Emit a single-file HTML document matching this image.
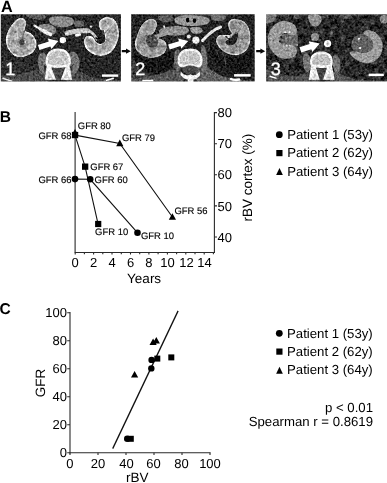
<!DOCTYPE html>
<html><head><meta charset="utf-8">
<style>
html,body{margin:0;padding:0;background:#fff;}
body{width:387px;height:483px;overflow:hidden;}
svg{display:block;}
text{font-family:"Liberation Sans",sans-serif;fill:#000;text-rendering:geometricPrecision;}
.b{font-weight:bold;font-size:15.6px;}
.g{font-size:9.45px;stroke:#000;stroke-width:0.15px;}
.t{font-size:13px;}
.t2{font-size:13px;}
.ax{font-size:13.5px;}
.lg{font-size:13.2px;}
.ln{stroke:#111;stroke-width:1.1;fill:none;}
.axl{stroke:#2a2a2a;stroke-width:1.1;fill:none;}
</style></head><body>
<svg width="387" height="483" viewBox="0 0 387 483">
<rect width="387" height="483" fill="#fff"/>
<defs>
<filter id="gr" x="0" y="0" width="100%" height="100%" color-interpolation-filters="sRGB">
<feTurbulence type="fractalNoise" baseFrequency="0.48" numOctaves="2" seed="7" result="n"/>
<feColorMatrix in="n" type="matrix" values="0.5 0.5 0 0 0 0.5 0.5 0 0 0 0.5 0.5 0 0 0 0 0 0 0 1" result="g"/>
<feComposite in="SourceGraphic" in2="g" operator="arithmetic" k1="0" k2="1" k3="0.76" k4="-0.38"/>
</filter>
<filter id="gr3" x="0" y="0" width="100%" height="100%" color-interpolation-filters="sRGB">
<feTurbulence type="fractalNoise" baseFrequency="0.48" numOctaves="2" seed="4" result="n"/>
<feColorMatrix in="n" type="matrix" values="0.5 0.5 0 0 0 0.5 0.5 0 0 0 0.5 0.5 0 0 0 0 0 0 0 1" result="g"/>
<feComposite in="SourceGraphic" in2="g" operator="arithmetic" k1="0" k2="1" k3="0.72" k4="-0.36"/>
</filter>
<filter id="bt" x="0" y="0" width="100%" height="100%" color-interpolation-filters="sRGB">
<feTurbulence type="fractalNoise" baseFrequency="0.2" numOctaves="2" seed="9" result="n2"/>
<feColorMatrix in="n2" type="matrix" values="1 0 0 0 0 1 0 0 0 0 1 0 0 0 0 0 0 0 0 1" result="g2"/>
<feComposite in="SourceGraphic" in2="g2" operator="arithmetic" k1="0" k2="1" k3="0.46" k4="-0.23"/>
</filter>
<filter id="mt" x="-5%" y="-5%" width="110%" height="110%" color-interpolation-filters="sRGB">
<feTurbulence type="fractalNoise" baseFrequency="0.2" numOctaves="2" seed="11" result="n"/>
<feColorMatrix in="n" type="matrix" values="0.5 0.5 0 0 0 0.5 0.5 0 0 0 0.5 0.5 0 0 0 0 0 0 0 1" result="g"/>
<feComposite in="SourceGraphic" in2="g" operator="arithmetic" k1="0" k2="1" k3="0.65" k4="-0.325" result="a"/>
<feComposite in="a" in2="SourceGraphic" operator="in"/>
</filter>
<filter id="bl" x="-10%" y="-10%" width="120%" height="120%"><feGaussianBlur stdDeviation="0.7"/></filter>
<filter id="bl2" x="-10%" y="-10%" width="120%" height="120%"><feGaussianBlur stdDeviation="1.2"/></filter>
<filter id="bs" x="-10%" y="-10%" width="120%" height="120%"><feGaussianBlur stdDeviation="0.35"/></filter>
<clipPath id="c1"><rect x="0.8" y="14.3" width="120.1" height="67.1"/></clipPath>
<clipPath id="c2"><rect x="131.2" y="14.3" width="123.5" height="67.1"/></clipPath>
<clipPath id="c3"><rect x="266.1" y="14.3" width="121" height="67.1"/></clipPath>
</defs><g clip-path="url(#c1)"><g filter="url(#gr)"><g filter="url(#bl)"><rect x="0" y="13" width="122" height="70" fill="#262626"/><rect x="34" y="13" width="60" height="2.6" fill="#3c3c3c"/><path d="M0.0 58.0C2.3 54.3 9.0 59.3 14.0 60.0C19.0 60.7 25.7 60.7 30.0 62.0C34.3 63.3 37.7 64.7 40.0 68.0C42.3 71.3 50.7 79.7 44.0 82.0C37.3 84.3 7.3 86.0 0.0 82.0C-7.3 78.0 -2.3 61.7 0.0 58.0Z" fill="#2e2e2e" /><path d="M0.0 76.0C3.3 74.5 13.7 75.0 20.0 74.0C26.3 73.0 33.7 70.0 38.0 70.0C42.3 70.0 44.7 71.8 46.0 74.0C47.3 76.2 53.7 81.5 46.0 83.0C38.3 84.5 7.7 84.2 0.0 83.0C-7.7 81.8 -3.3 77.5 0.0 76.0Z" fill="#4a4a4a" /><path d="M70.0 72.0C71.7 70.2 75.8 71.0 80.0 72.0C84.2 73.0 88.2 76.7 95.0 78.0C101.8 79.3 116.7 79.2 121.0 80.0C125.3 80.8 129.5 82.5 121.0 83.0C112.5 83.5 78.5 84.8 70.0 83.0C61.5 81.2 68.3 73.8 70.0 72.0Z" fill="#4a4a4a" /><path d="M49.5 18.0C50.8 17.0 54.9 16.5 58.0 16.3C61.1 16.1 65.3 16.4 68.0 17.0C70.7 17.6 73.3 18.7 74.0 20.0C74.7 21.3 73.7 23.8 72.0 25.0C70.3 26.2 66.8 27.0 64.0 27.2C61.2 27.4 57.3 26.8 55.0 26.0C52.7 25.2 50.9 23.8 50.0 22.5C49.1 21.2 48.2 19.0 49.5 18.0Z" fill="#8c8c8c" /><path d="M38.5 26.0C39.3 25.0 41.9 24.2 44.0 24.0C46.1 23.8 49.0 24.2 51.0 25.0C53.0 25.8 55.3 27.6 56.0 29.0C56.7 30.4 56.2 32.5 55.0 33.5C53.8 34.5 51.0 35.1 49.0 35.0C47.0 34.9 44.7 33.8 43.0 33.0C41.3 32.2 39.8 31.2 39.0 30.0C38.2 28.8 37.7 27.0 38.5 26.0Z" fill="#8a8a8a" /><path d="M74.0 22.0C74.7 21.0 78.3 20.3 80.0 20.5C81.7 20.7 83.7 22.0 84.0 23.0C84.3 24.0 83.3 25.9 82.0 26.5C80.7 27.1 77.3 27.2 76.0 26.5C74.7 25.8 73.3 23.0 74.0 22.0Z" fill="#6a6a6a" /><path d="M26.0 14.0C27.7 13.3 36.7 13.5 40.0 14.0C43.3 14.5 46.0 16.1 46.0 17.0C46.0 17.9 42.7 19.3 40.0 19.5C37.3 19.7 32.3 18.9 30.0 18.0C27.7 17.1 24.3 14.7 26.0 14.0Z" fill="#5a5a5a" /><path d="M34.5 25.6C35.4 26.1 38.0 27.6 40.0 28.8C42.0 30.0 45.4 32.1 46.5 32.8" fill="none" stroke="#f4f4f4" stroke-width="2.2" stroke-linecap="round" /><path d="M43.5 30.6C44.1 31.0 45.9 32.2 47.0 32.8C48.1 33.4 49.8 34.1 50.4 34.4" fill="none" stroke="#f4f4f4" stroke-width="3.6" stroke-linecap="round" /><path d="M67.0 33.2C68.2 32.9 71.5 32.0 74.0 31.6C76.5 31.2 79.8 30.9 82.0 30.8C84.2 30.7 86.6 30.8 87.5 30.8" fill="none" stroke="#c8c8c8" stroke-width="5" stroke-linecap="round" /><path d="M86.0 30.8C86.8 31.0 89.2 31.2 90.5 31.8C91.8 32.4 93.0 33.5 94.0 34.6C95.0 35.7 95.8 37.4 96.6 38.6C97.4 39.8 98.6 41.1 99.0 41.6" fill="none" stroke="#c8c8c8" stroke-width="2.8" stroke-linecap="round" /><ellipse cx="78" cy="35" rx="3.2" ry="1.5" fill="#fff" transform="rotate(-12 78 35)" /><ellipse cx="91.1" cy="26.6" rx="1.3" ry="1.1" fill="#ddd" /><path d="M38.5 56.0C39.4 54.2 42.1 52.2 43.5 52.5C44.9 52.8 46.3 55.4 47.0 58.0C47.7 60.6 47.9 65.3 47.5 68.0C47.1 70.7 45.8 73.7 44.5 74.0C43.2 74.3 41.1 71.8 40.0 70.0C38.9 68.2 38.2 65.3 38.0 63.0C37.8 60.7 37.6 57.8 38.5 56.0Z" fill="#727272" /><path d="M69.5 54.0C70.2 51.7 72.5 51.5 74.0 52.0C75.5 52.5 77.6 54.7 78.5 57.0C79.4 59.3 79.9 63.3 79.5 66.0C79.1 68.7 77.3 71.7 76.0 73.0C74.7 74.3 72.5 75.2 71.5 74.0C70.5 72.8 70.3 69.3 70.0 66.0C69.7 62.7 68.8 56.3 69.5 54.0Z" fill="#727272" /><clipPath id="k1"><path d="M20.3 17.8C21.7 17.7 23.6 18.2 24.6 19.2C25.6 20.2 26.4 22.2 26.5 24.0C26.6 25.8 24.2 28.6 25.0 30.2C25.8 31.8 29.2 31.7 31.0 33.3C32.8 34.8 34.8 37.4 35.7 39.5C36.6 41.6 36.9 43.6 36.5 45.7C36.1 47.8 34.9 50.2 33.4 51.9C31.8 53.6 29.4 54.9 27.2 55.8C25.0 56.7 22.5 57.5 20.2 57.4C17.9 57.3 15.1 56.3 13.2 55.0C11.2 53.7 9.7 51.5 8.5 49.6C7.3 47.7 6.6 45.6 6.2 43.4C5.8 41.2 5.9 38.5 6.2 36.4C6.5 34.3 7.4 32.5 8.0 31.0C8.6 29.5 9.2 28.5 10.0 27.3C10.8 26.1 11.6 25.0 12.6 23.8C13.6 22.6 14.7 21.0 16.0 20.0C17.3 19.0 18.9 17.9 20.3 17.8Z"/></clipPath><g filter="url(#mt)"><g clip-path="url(#k1)"><path d="M20.3 17.8C21.7 17.7 23.6 18.2 24.6 19.2C25.6 20.2 26.4 22.2 26.5 24.0C26.6 25.8 24.2 28.6 25.0 30.2C25.8 31.8 29.2 31.7 31.0 33.3C32.8 34.8 34.8 37.4 35.7 39.5C36.6 41.6 36.9 43.6 36.5 45.7C36.1 47.8 34.9 50.2 33.4 51.9C31.8 53.6 29.4 54.9 27.2 55.8C25.0 56.7 22.5 57.5 20.2 57.4C17.9 57.3 15.1 56.3 13.2 55.0C11.2 53.7 9.7 51.5 8.5 49.6C7.3 47.7 6.6 45.6 6.2 43.4C5.8 41.2 5.9 38.5 6.2 36.4C6.5 34.3 7.4 32.5 8.0 31.0C8.6 29.5 9.2 28.5 10.0 27.3C10.8 26.1 11.6 25.0 12.6 23.8C13.6 22.6 14.7 21.0 16.0 20.0C17.3 19.0 18.9 17.9 20.3 17.8Z" fill="#a8a8a8"/><path d="M20.3 17.8C21.7 17.7 23.6 18.2 24.6 19.2C25.6 20.2 26.4 22.2 26.5 24.0C26.6 25.8 24.2 28.6 25.0 30.2C25.8 31.8 29.2 31.7 31.0 33.3C32.8 34.8 34.8 37.4 35.7 39.5C36.6 41.6 36.9 43.6 36.5 45.7C36.1 47.8 34.9 50.2 33.4 51.9C31.8 53.6 29.4 54.9 27.2 55.8C25.0 56.7 22.5 57.5 20.2 57.4C17.9 57.3 15.1 56.3 13.2 55.0C11.2 53.7 9.7 51.5 8.5 49.6C7.3 47.7 6.6 45.6 6.2 43.4C5.8 41.2 5.9 38.5 6.2 36.4C6.5 34.3 7.4 32.5 8.0 31.0C8.6 29.5 9.2 28.5 10.0 27.3C10.8 26.1 11.6 25.0 12.6 23.8C13.6 22.6 14.7 21.0 16.0 20.0C17.3 19.0 18.9 17.9 20.3 17.8Z" fill="none" stroke="#dedede" stroke-width="3.4" filter="url(#bs)"/></g></g><g filter="url(#bl2)"><ellipse cx="22" cy="42.8" rx="5" ry="5.2" fill="#8a8a8a" /></g><path d="M24.6 30.6C24.4 31.3 23.6 33.5 23.2 35.0C22.8 36.5 22.2 38.8 22.0 39.5" fill="none" stroke="#6a6a6a" stroke-width="1.3" stroke-linecap="round" /><ellipse cx="22" cy="42.3" rx="2.6" ry="3" fill="#3a3a3a" /><ellipse cx="25.2" cy="42" rx="0.8" ry="0.7" fill="#fff" /><clipPath id="k2"><path d="M106.2 16.9C108.5 16.8 112.2 17.6 114.2 19.3C116.2 21.0 117.4 24.1 118.2 27.0C119.0 29.9 119.2 33.3 118.8 36.4C118.4 39.5 117.2 43.0 115.8 45.7C114.4 48.4 112.6 51.0 110.4 52.7C108.2 54.4 105.4 55.5 102.6 55.8C99.8 56.1 96.0 55.5 93.3 54.3C90.6 53.1 87.8 50.8 86.3 48.8C84.8 46.8 84.2 44.4 84.0 42.6C83.8 40.8 84.0 39.2 84.8 38.0C85.6 36.8 87.2 35.7 88.6 35.6C90.0 35.5 92.1 36.3 93.3 37.2C94.5 38.1 94.6 40.1 95.6 41.1C96.6 42.1 98.2 43.4 99.5 43.4C100.8 43.4 102.5 42.3 103.4 41.1C104.3 39.9 104.9 38.0 104.9 36.4C104.9 34.8 104.2 32.9 103.4 31.7C102.6 30.5 101.1 30.5 100.3 29.4C99.5 28.2 98.7 26.4 98.7 24.8C98.7 23.2 99.0 21.4 100.3 20.1C101.5 18.8 103.9 17.0 106.2 16.9Z"/></clipPath><g filter="url(#mt)"><g clip-path="url(#k2)"><path d="M106.2 16.9C108.5 16.8 112.2 17.6 114.2 19.3C116.2 21.0 117.4 24.1 118.2 27.0C119.0 29.9 119.2 33.3 118.8 36.4C118.4 39.5 117.2 43.0 115.8 45.7C114.4 48.4 112.6 51.0 110.4 52.7C108.2 54.4 105.4 55.5 102.6 55.8C99.8 56.1 96.0 55.5 93.3 54.3C90.6 53.1 87.8 50.8 86.3 48.8C84.8 46.8 84.2 44.4 84.0 42.6C83.8 40.8 84.0 39.2 84.8 38.0C85.6 36.8 87.2 35.7 88.6 35.6C90.0 35.5 92.1 36.3 93.3 37.2C94.5 38.1 94.6 40.1 95.6 41.1C96.6 42.1 98.2 43.4 99.5 43.4C100.8 43.4 102.5 42.3 103.4 41.1C104.3 39.9 104.9 38.0 104.9 36.4C104.9 34.8 104.2 32.9 103.4 31.7C102.6 30.5 101.1 30.5 100.3 29.4C99.5 28.2 98.7 26.4 98.7 24.8C98.7 23.2 99.0 21.4 100.3 20.1C101.5 18.8 103.9 17.0 106.2 16.9Z" fill="#a6a6a6"/><path d="M106.2 16.9C108.5 16.8 112.2 17.6 114.2 19.3C116.2 21.0 117.4 24.1 118.2 27.0C119.0 29.9 119.2 33.3 118.8 36.4C118.4 39.5 117.2 43.0 115.8 45.7C114.4 48.4 112.6 51.0 110.4 52.7C108.2 54.4 105.4 55.5 102.6 55.8C99.8 56.1 96.0 55.5 93.3 54.3C90.6 53.1 87.8 50.8 86.3 48.8C84.8 46.8 84.2 44.4 84.0 42.6C83.8 40.8 84.0 39.2 84.8 38.0C85.6 36.8 87.2 35.7 88.6 35.6C90.0 35.5 92.1 36.3 93.3 37.2C94.5 38.1 94.6 40.1 95.6 41.1C96.6 42.1 98.2 43.4 99.5 43.4C100.8 43.4 102.5 42.3 103.4 41.1C104.3 39.9 104.9 38.0 104.9 36.4C104.9 34.8 104.2 32.9 103.4 31.7C102.6 30.5 101.1 30.5 100.3 29.4C99.5 28.2 98.7 26.4 98.7 24.8C98.7 23.2 99.0 21.4 100.3 20.1C101.5 18.8 103.9 17.0 106.2 16.9Z" fill="none" stroke="#e0e0e0" stroke-width="3.6" filter="url(#bs)"/></g></g><path d="M98.5 36.5C99.3 35.0 100.6 33.3 101.5 33.0C102.4 32.7 103.4 33.6 104.0 34.5C104.6 35.4 105.2 37.2 105.3 38.5C105.3 39.8 105.1 41.4 104.3 42.3C103.5 43.2 101.8 44.1 100.5 44.0C99.2 43.9 96.9 43.0 96.6 41.8C96.3 40.5 97.7 38.0 98.5 36.5Z" fill="#1c1c1c" /><path d="M103.0 30.5C103.1 31.1 103.5 33.4 103.6 34.0" fill="none" stroke="#333" stroke-width="1.5" stroke-linecap="round" /><path d="M105.0 39.0C105.6 39.2 107.9 40.2 108.5 40.5" fill="none" stroke="#777" stroke-width="1.2" stroke-linecap="round" /><path d="M104.0 34.0C104.7 33.3 107.3 30.7 108.0 30.0" fill="none" stroke="#888" stroke-width="1.2" stroke-linecap="round" /><path d="M102.0 44.0C102.3 44.8 103.7 47.8 104.0 48.5" fill="none" stroke="#888" stroke-width="1.2" stroke-linecap="round" /><path d="M96.0 38.0C96.5 38.3 98.5 39.7 99.0 40.0" fill="none" stroke="#1c1c1c" stroke-width="1.6" stroke-linecap="round" /><path d="M46.8 65.5L69.6 65.5L72.1 79.8L44.7 79.8Z" fill="#f4f4f4"/><path d="M51 66.8L65.8 66.8L60.6 80L56.2 80Z" fill="#444"/><path d="M49.4 71.5L53.2 78.2L47.8 78.4Z" fill="#d0d0d0"/><path d="M67.2 71.5L63.4 78.2L69 78.4Z" fill="#d0d0d0"/><path d="M44 65L46.6 66.8L44.6 73Z" fill="#222"/><path d="M72.6 65L70 66.8L72 73Z" fill="#222"/><path d="M58.2 48.5C60.0 48.5 61.9 48.7 63.5 49.3C65.1 49.9 66.7 50.9 67.8 52.2C68.9 53.5 69.8 55.4 70.3 57.0C70.8 58.6 71.0 60.3 70.9 61.8C70.8 63.3 70.7 65.0 69.5 66.0C68.3 67.0 66.9 67.3 64.0 67.6C61.1 67.9 54.9 67.9 52.0 67.6C49.1 67.3 48.0 67.0 46.9 66.0C45.8 65.0 45.7 63.3 45.6 61.8C45.5 60.3 45.7 58.6 46.2 57.0C46.7 55.4 47.6 53.5 48.7 52.2C49.8 50.9 51.4 49.9 53.0 49.3C54.6 48.7 56.5 48.5 58.2 48.5Z" fill="#f6f6f6" /><path d="M58.2 50.8C59.8 50.8 61.6 51.0 63.0 51.5C64.4 52.0 65.5 53.0 66.4 54.0C67.3 55.0 67.9 56.5 68.3 57.8C68.7 59.0 68.8 60.4 68.6 61.5C68.4 62.6 68.2 63.7 67.3 64.3C66.4 64.9 65.3 65.1 63.0 65.3C60.7 65.5 55.7 65.5 53.4 65.3C51.1 65.1 50.1 64.9 49.2 64.3C48.3 63.7 48.1 62.6 47.9 61.5C47.7 60.4 47.9 59.0 48.2 57.8C48.6 56.5 49.1 55.0 50.0 54.0C50.9 53.0 52.1 52.0 53.5 51.5C54.9 51.0 56.6 50.8 58.2 50.8Z" fill="#c6c6c6" /><ellipse cx="62.8" cy="40.1" rx="3.2" ry="3.2" fill="#fff" /></g></g><g filter="url(#bs)"><path d="M39.5 50.1 L50.4 46.4 L51.4 49.1 L58.4 40.9 L47.8 38.6 L48.8 41.4 L37.9 45.1 Z" fill="#fff"/><rect x="102" y="74.4" width="16.3" height="2.4" fill="#fff"/><path d="M105.8 80.5l8-2.3" stroke="#fff" stroke-width="1.5"/><path d="M2.5 78.2l10 3.2" stroke="#eee" stroke-width="1.5"/><text x="5.2" y="74.7" style="font-size:18px;fill:#fff;stroke:#fff;stroke-width:0.35px">1</text></g></g><g clip-path="url(#c2)"><g filter="url(#gr)"><g filter="url(#bl)"><rect x="130" y="13" width="126" height="70" fill="#242424"/><rect x="150" y="13" width="90" height="2.4" fill="#383838"/><path d="M131.0 74.0C133.3 72.8 140.2 76.0 145.0 76.0C149.8 76.0 155.5 75.0 160.0 74.0C164.5 73.0 168.7 70.3 172.0 70.0C175.3 69.7 178.7 69.8 180.0 72.0C181.3 74.2 188.2 81.2 180.0 83.0C171.8 84.8 139.2 84.5 131.0 83.0C122.8 81.5 128.7 75.2 131.0 74.0Z" fill="#555" /><path d="M200.0 62.0C201.3 59.5 204.3 65.7 208.0 68.0C211.7 70.3 216.7 74.0 222.0 76.0C227.3 78.0 234.5 79.2 240.0 80.0C245.5 80.8 252.5 80.5 255.0 81.0C257.5 81.5 264.2 82.7 255.0 83.0C245.8 83.3 209.2 86.5 200.0 83.0C190.8 79.5 198.7 64.5 200.0 62.0Z" fill="#626262" /><path d="M131.0 60.0C131.8 57.3 134.5 60.3 136.0 62.0C137.5 63.7 137.7 67.8 140.0 70.0C142.3 72.2 151.5 73.7 150.0 75.0C148.5 76.3 134.2 80.5 131.0 78.0C127.8 75.5 130.2 62.7 131.0 60.0Z" fill="#3a3a3a" /><path d="M134.0 52.0C135.3 50.7 141.7 57.0 146.0 58.0C150.3 59.0 156.0 59.0 160.0 58.0C164.0 57.0 167.7 51.7 170.0 52.0C172.3 52.3 174.3 57.0 174.0 60.0C173.7 63.0 172.0 68.0 168.0 70.0C164.0 72.0 155.0 72.7 150.0 72.0C145.0 71.3 140.7 69.3 138.0 66.0C135.3 62.7 132.7 53.3 134.0 52.0Z" fill="#161616" /><path d="M212.0 48.0C213.7 47.3 219.3 54.5 224.0 56.0C228.7 57.5 235.5 58.0 240.0 57.0C244.5 56.0 248.8 49.2 251.0 50.0C253.2 50.8 254.2 58.3 253.0 62.0C251.8 65.7 248.5 70.7 244.0 72.0C239.5 73.3 231.0 72.0 226.0 70.0C221.0 68.0 216.3 63.7 214.0 60.0C211.7 56.3 210.3 48.7 212.0 48.0Z" fill="#161616" /><path d="M175.0 18.5C175.9 17.4 178.8 16.4 181.0 15.8C183.2 15.2 185.5 15.3 188.0 15.2C190.5 15.1 193.3 15.2 196.0 15.4C198.7 15.6 201.8 15.9 204.0 16.6C206.2 17.3 208.8 18.4 209.5 19.5C210.2 20.6 209.6 22.5 208.0 23.5C206.4 24.5 203.0 25.2 200.0 25.6C197.0 26.0 193.2 26.1 190.0 26.0C186.8 25.9 183.4 25.6 181.0 25.0C178.6 24.4 176.5 23.6 175.5 22.5C174.5 21.4 174.1 19.6 175.0 18.5Z" fill="#969696" /><ellipse cx="187.6" cy="20.1" rx="1.8" ry="2.3" fill="#000" /><ellipse cx="194.5" cy="20.6" rx="1.8" ry="2.3" fill="#000" /><path d="M211.0 15.0C212.1 14.2 215.5 14.3 218.0 14.5C220.5 14.7 225.0 15.1 226.0 16.0C227.0 16.9 225.7 19.2 224.0 20.0C222.3 20.8 218.1 21.2 216.0 21.0C213.9 20.8 212.3 20.0 211.5 19.0C210.7 18.0 209.9 15.8 211.0 15.0Z" fill="#707070" /><path d="M158.0 17.0C158.5 15.8 163.5 15.0 166.0 15.0C168.5 15.0 172.0 16.0 173.0 17.0C174.0 18.0 173.7 20.2 172.0 21.0C170.3 21.8 165.3 22.7 163.0 22.0C160.7 21.3 157.5 18.2 158.0 17.0Z" fill="#5a5a5a" /><path d="M159.5 30.0C160.3 28.9 162.9 28.0 165.0 27.4C167.1 26.8 169.5 26.6 172.0 26.4C174.5 26.2 177.5 26.0 180.0 26.2C182.5 26.4 185.6 26.7 187.0 27.6C188.4 28.5 189.3 30.3 188.6 31.5C187.9 32.7 185.4 34.3 183.0 35.0C180.6 35.7 176.8 35.5 174.0 35.5C171.2 35.5 168.3 35.2 166.0 35.0C163.7 34.8 161.1 34.8 160.0 34.0C158.9 33.2 158.7 31.1 159.5 30.0Z" fill="#8e8e8e" /><path d="M189.8 28.5C190.1 27.4 193.1 27.1 195.0 27.0C196.9 26.9 199.8 27.3 201.0 28.0C202.2 28.7 202.8 30.1 202.5 31.0C202.2 31.9 200.6 33.0 199.0 33.4C197.4 33.8 194.5 34.2 193.0 33.4C191.5 32.6 189.5 29.6 189.8 28.5Z" fill="#9c9c9c" /><ellipse cx="164.2" cy="26.8" rx="0.9" ry="1.6" fill="#e4e4e4" transform="rotate(-15 164.2 26.8)" /><path d="M155.0 37.0C156.2 36.6 159.7 35.3 162.0 34.5C164.3 33.7 166.8 32.9 169.0 32.2C171.2 31.5 174.0 30.8 175.0 30.5" fill="none" stroke="#9a9a9a" stroke-width="4.2" stroke-linecap="round" /><path d="M202.5 40.5C203.1 39.9 204.6 38.3 206.0 37.0C207.4 35.7 209.3 33.8 211.0 32.5C212.7 31.2 214.4 29.9 216.0 29.0C217.6 28.1 219.8 27.3 220.5 27.0" fill="none" stroke="#e8e8e8" stroke-width="3" stroke-linecap="round" /><path d="M175.0 52.0C175.8 49.7 178.0 49.0 178.8 50.0C179.6 51.0 179.7 55.0 180.0 58.0C180.3 61.0 181.0 65.7 180.5 68.0C180.0 70.3 178.1 72.7 177.0 72.0C175.9 71.3 174.3 67.3 174.0 64.0C173.7 60.7 174.2 54.3 175.0 52.0Z" fill="#6a6a6a" /><path d="M201.5 46.0C202.1 43.8 204.1 45.3 205.0 47.0C205.9 48.7 206.7 52.5 207.0 56.0C207.3 59.5 207.7 65.3 207.0 68.0C206.3 70.7 203.9 73.3 203.0 72.0C202.1 70.7 201.8 64.3 201.5 60.0C201.2 55.7 200.9 48.2 201.5 46.0Z" fill="#707070" /><clipPath id="k3"><path d="M150.6 18.5C152.2 18.5 154.8 19.4 155.8 20.6C156.9 21.8 157.0 23.7 156.9 25.5C156.8 27.3 155.8 29.5 155.0 31.2C154.2 32.9 151.2 34.5 151.8 35.6C152.4 36.7 156.3 37.1 158.4 38.0C160.5 38.9 163.2 39.7 164.6 41.1C166.0 42.5 166.9 44.6 166.9 46.5C166.9 48.4 166.0 51.0 164.6 52.7C163.2 54.4 160.7 55.7 158.4 56.6C156.1 57.5 153.2 58.2 150.6 58.1C148.0 58.0 145.2 57.1 142.9 55.8C140.6 54.5 137.9 52.5 136.6 50.4C135.2 48.3 134.8 45.7 134.8 43.4C134.8 41.1 135.9 38.6 136.6 36.4C137.3 34.2 138.1 32.0 139.0 30.0C139.9 28.0 140.8 26.2 142.0 24.6C143.2 23.0 145.0 21.4 146.4 20.4C147.8 19.4 149.0 18.5 150.6 18.5Z"/></clipPath><g filter="url(#mt)"><g clip-path="url(#k3)"><path d="M150.6 18.5C152.2 18.5 154.8 19.4 155.8 20.6C156.9 21.8 157.0 23.7 156.9 25.5C156.8 27.3 155.8 29.5 155.0 31.2C154.2 32.9 151.2 34.5 151.8 35.6C152.4 36.7 156.3 37.1 158.4 38.0C160.5 38.9 163.2 39.7 164.6 41.1C166.0 42.5 166.9 44.6 166.9 46.5C166.9 48.4 166.0 51.0 164.6 52.7C163.2 54.4 160.7 55.7 158.4 56.6C156.1 57.5 153.2 58.2 150.6 58.1C148.0 58.0 145.2 57.1 142.9 55.8C140.6 54.5 137.9 52.5 136.6 50.4C135.2 48.3 134.8 45.7 134.8 43.4C134.8 41.1 135.9 38.6 136.6 36.4C137.3 34.2 138.1 32.0 139.0 30.0C139.9 28.0 140.8 26.2 142.0 24.6C143.2 23.0 145.0 21.4 146.4 20.4C147.8 19.4 149.0 18.5 150.6 18.5Z" fill="#929292"/><path d="M150.6 18.5C152.2 18.5 154.8 19.4 155.8 20.6C156.9 21.8 157.0 23.7 156.9 25.5C156.8 27.3 155.8 29.5 155.0 31.2C154.2 32.9 151.2 34.5 151.8 35.6C152.4 36.7 156.3 37.1 158.4 38.0C160.5 38.9 163.2 39.7 164.6 41.1C166.0 42.5 166.9 44.6 166.9 46.5C166.9 48.4 166.0 51.0 164.6 52.7C163.2 54.4 160.7 55.7 158.4 56.6C156.1 57.5 153.2 58.2 150.6 58.1C148.0 58.0 145.2 57.1 142.9 55.8C140.6 54.5 137.9 52.5 136.6 50.4C135.2 48.3 134.8 45.7 134.8 43.4C134.8 41.1 135.9 38.6 136.6 36.4C137.3 34.2 138.1 32.0 139.0 30.0C139.9 28.0 140.8 26.2 142.0 24.6C143.2 23.0 145.0 21.4 146.4 20.4C147.8 19.4 149.0 18.5 150.6 18.5Z" fill="none" stroke="#bcbcbc" stroke-width="3.0" filter="url(#bs)"/></g></g><g filter="url(#bl)"><path d="M147.5 36.0C148.5 35.1 150.5 34.1 152.0 34.4C153.5 34.7 155.6 36.2 156.6 37.6C157.6 39.0 158.1 41.0 158.0 42.5C157.9 44.0 157.1 45.8 156.0 46.6C154.9 47.5 152.9 48.0 151.5 47.6C150.1 47.2 148.2 45.8 147.3 44.5C146.4 43.2 146.0 41.4 146.0 40.0C146.0 38.6 146.5 36.9 147.5 36.0Z" fill="#484848" /></g><ellipse cx="154.5" cy="40" rx="1.6" ry="1.2" fill="#8a8a8a" transform="rotate(25 154.5 40)" /><path d="M151.0 36.0C151.3 36.7 152.7 39.3 153.0 40.0" fill="none" stroke="#444" stroke-width="1.5" stroke-linecap="round" /><clipPath id="k4"><path d="M234.0 18.7C236.0 18.7 239.7 19.2 242.0 20.4C244.3 21.5 246.2 23.2 247.6 25.6C249.0 28.0 250.0 31.4 250.3 34.5C250.6 37.6 250.3 41.4 249.6 44.2C248.8 47.0 247.7 49.3 245.8 51.1C243.9 52.9 240.8 54.5 238.0 55.0C235.2 55.5 231.5 55.2 228.7 54.3C225.9 53.4 223.1 51.5 221.0 49.6C218.9 47.7 217.0 44.7 216.3 42.6C215.7 40.5 216.3 38.5 217.1 37.2C217.9 35.9 219.5 35.2 221.0 34.8C222.5 34.4 224.6 35.0 226.0 35.0C227.4 35.0 228.6 35.1 229.5 34.8C230.4 34.5 231.5 33.9 231.6 33.2C231.7 32.5 230.5 31.8 230.0 30.8C229.5 29.9 228.8 28.7 228.5 27.5C228.2 26.3 228.0 24.7 228.2 23.5C228.4 22.3 228.8 21.1 229.8 20.3C230.8 19.5 232.0 18.7 234.0 18.7Z"/></clipPath><g filter="url(#mt)"><g clip-path="url(#k4)"><path d="M234.0 18.7C236.0 18.7 239.7 19.2 242.0 20.4C244.3 21.5 246.2 23.2 247.6 25.6C249.0 28.0 250.0 31.4 250.3 34.5C250.6 37.6 250.3 41.4 249.6 44.2C248.8 47.0 247.7 49.3 245.8 51.1C243.9 52.9 240.8 54.5 238.0 55.0C235.2 55.5 231.5 55.2 228.7 54.3C225.9 53.4 223.1 51.5 221.0 49.6C218.9 47.7 217.0 44.7 216.3 42.6C215.7 40.5 216.3 38.5 217.1 37.2C217.9 35.9 219.5 35.2 221.0 34.8C222.5 34.4 224.6 35.0 226.0 35.0C227.4 35.0 228.6 35.1 229.5 34.8C230.4 34.5 231.5 33.9 231.6 33.2C231.7 32.5 230.5 31.8 230.0 30.8C229.5 29.9 228.8 28.7 228.5 27.5C228.2 26.3 228.0 24.7 228.2 23.5C228.4 22.3 228.8 21.1 229.8 20.3C230.8 19.5 232.0 18.7 234.0 18.7Z" fill="#969696"/><path d="M234.0 18.7C236.0 18.7 239.7 19.2 242.0 20.4C244.3 21.5 246.2 23.2 247.6 25.6C249.0 28.0 250.0 31.4 250.3 34.5C250.6 37.6 250.3 41.4 249.6 44.2C248.8 47.0 247.7 49.3 245.8 51.1C243.9 52.9 240.8 54.5 238.0 55.0C235.2 55.5 231.5 55.2 228.7 54.3C225.9 53.4 223.1 51.5 221.0 49.6C218.9 47.7 217.0 44.7 216.3 42.6C215.7 40.5 216.3 38.5 217.1 37.2C217.9 35.9 219.5 35.2 221.0 34.8C222.5 34.4 224.6 35.0 226.0 35.0C227.4 35.0 228.6 35.1 229.5 34.8C230.4 34.5 231.5 33.9 231.6 33.2C231.7 32.5 230.5 31.8 230.0 30.8C229.5 29.9 228.8 28.7 228.5 27.5C228.2 26.3 228.0 24.7 228.2 23.5C228.4 22.3 228.8 21.1 229.8 20.3C230.8 19.5 232.0 18.7 234.0 18.7Z" fill="none" stroke="#c4c4c4" stroke-width="3.0" filter="url(#bs)"/></g></g><path d="M225.4 41.3C226.0 40.2 228.9 39.5 230.3 38.4C231.7 37.3 232.6 35.6 233.6 34.6C234.6 33.6 235.8 32.3 236.6 32.3C237.4 32.2 238.1 33.2 238.2 34.3C238.3 35.3 237.8 37.1 237.3 38.6C236.9 40.1 236.5 41.9 235.5 43.0C234.5 44.1 232.8 44.9 231.4 45.2C230.0 45.5 228.0 45.4 227.0 44.7C226.0 44.1 224.8 42.3 225.4 41.3Z" fill="#242424" /><path d="M238.5 38.0C239.2 38.2 241.8 39.2 242.5 39.5" fill="none" stroke="#6e6e6e" stroke-width="1.2" stroke-linecap="round" /><path d="M236.0 33.5C236.7 32.8 239.3 30.2 240.0 29.5" fill="none" stroke="#777" stroke-width="1.2" stroke-linecap="round" /><path d="M235.5 44.0C235.8 44.8 237.2 47.8 237.5 48.5" fill="none" stroke="#777" stroke-width="1.2" stroke-linecap="round" /><path d="M226.0 36.5C226.7 37.0 229.3 39.0 230.0 39.5" fill="none" stroke="#262626" stroke-width="1.6" stroke-linecap="round" /><ellipse cx="228.8" cy="36.8" rx="1.3" ry="1.2" fill="#e8e8e8" /><path d="M222.0 52.0C222.5 53.3 224.3 57.3 225.0 60.0C225.7 62.7 225.8 66.7 226.0 68.0" fill="none" stroke="#484848" stroke-width="1.2" stroke-linecap="round" /><path d="M216.0 50.0C216.5 51.2 218.5 55.8 219.0 57.0" fill="none" stroke="#444" stroke-width="1" stroke-linecap="round" /><path d="M180.8 71.6Q184 75.6 188 75.2L190.4 74.3L192.8 75.2Q197 75.6 199.6 71.6L200.2 75Q196.6 79.6 193.5 79.6L193.5 83L187.6 83L187.6 79.6Q184.6 79.6 180.4 75Z" fill="#f6f6f6"/><path d="M190.1 48.5C191.9 48.5 194.0 48.7 195.6 49.3C197.2 49.9 198.7 51.0 199.8 52.3C200.9 53.6 201.7 55.4 202.2 57.0C202.7 58.6 202.8 60.3 202.6 61.8C202.4 63.3 201.9 65.0 201.0 66.0C200.1 67.0 198.8 67.5 197.0 67.6C195.2 67.7 192.4 66.4 190.1 66.4C187.8 66.4 184.8 67.7 183.0 67.6C181.2 67.5 180.1 67.0 179.2 66.0C178.3 65.0 177.8 63.3 177.6 61.8C177.4 60.3 177.5 58.6 178.0 57.0C178.5 55.4 179.3 53.6 180.4 52.3C181.5 51.0 183.0 49.9 184.6 49.3C186.2 48.7 188.3 48.5 190.1 48.5Z" fill="#f6f6f6" /><path d="M190.1 50.8C191.7 50.8 193.6 51.0 195.0 51.5C196.4 52.0 197.5 53.0 198.4 54.0C199.3 55.0 199.9 56.5 200.2 57.8C200.5 59.0 200.6 60.4 200.4 61.5C200.2 62.6 199.8 63.7 199.0 64.3C198.2 64.9 196.9 65.1 195.4 65.0C193.9 64.9 191.9 63.8 190.1 63.8C188.3 63.8 186.3 64.9 184.8 65.0C183.3 65.1 182.0 64.9 181.2 64.3C180.4 63.7 180.0 62.6 179.8 61.5C179.6 60.4 179.7 59.0 180.0 57.8C180.3 56.5 180.9 55.0 181.8 54.0C182.7 53.0 183.8 52.0 185.2 51.5C186.6 51.0 188.5 50.8 190.1 50.8Z" fill="#c6c6c6" /><ellipse cx="190.3" cy="69.6" rx="8" ry="4.2" fill="#464646" /><ellipse cx="195.9" cy="40.2" rx="3.6" ry="3.6" fill="#ececec" /><ellipse cx="188.8" cy="36.6" rx="2" ry="2" fill="#e8e8e8" /></g></g><g filter="url(#bs)"><path d="M169.7 49.5 L180.5 46.1 L181.3 48.7 L188.3 41.0 L178.1 38.6 L178.9 41.2 L168.1 44.5 Z" fill="#fff"/><rect x="234.1" y="74.1" width="16.6" height="2.5" fill="#fff"/><path d="M231 78.9Q233.5 80.4 239.2 79.5" stroke="#fff" stroke-width="2.3" stroke-linecap="round" fill="none"/><rect x="142.3" y="79.8" width="10.9" height="1.8" fill="#fff"/><text x="135.3" y="75" style="font-size:18px;fill:#fff;stroke:#fff;stroke-width:0.35px">2</text></g></g><g clip-path="url(#c3)"><g filter="url(#gr3)"><g filter="url(#bl)"><rect x="265" y="13" width="123" height="70" fill="#282828" filter="url(#bt)"/><rect x="265" y="13" width="123" height="2.4" fill="#444"/><path d="M266.0 14.0C267.7 12.5 274.5 13.0 276.0 14.0C277.5 15.0 276.0 18.5 275.0 20.0C274.0 21.5 271.5 22.5 270.0 23.0C268.5 23.5 266.7 24.5 266.0 23.0C265.3 21.5 264.3 15.5 266.0 14.0Z" fill="#777" /><path d="M266.0 70.0C268.3 68.5 275.0 73.0 280.0 74.0C285.0 75.0 291.3 76.3 296.0 76.0C300.7 75.7 305.3 72.0 308.0 72.0C310.7 72.0 311.3 74.2 312.0 76.0C312.7 77.8 319.7 81.8 312.0 83.0C304.3 84.2 273.7 85.2 266.0 83.0C258.3 80.8 263.7 71.5 266.0 70.0Z" fill="#505050" /><path d="M334.0 72.0C335.8 70.8 340.7 74.7 345.0 76.0C349.3 77.3 353.0 79.2 360.0 80.0C367.0 80.8 382.5 80.5 387.0 81.0C391.5 81.5 395.8 82.7 387.0 83.0C378.2 83.3 342.8 84.8 334.0 83.0C325.2 81.2 332.2 73.2 334.0 72.0Z" fill="#555" /><path d="M308.5 15.0C309.4 14.2 312.1 14.1 314.0 14.2C315.9 14.3 318.7 14.5 320.0 15.5C321.3 16.5 321.8 18.4 321.6 20.0C321.4 21.6 320.2 23.9 319.0 25.0C317.8 26.1 315.9 26.9 314.5 26.6C313.1 26.4 311.5 24.8 310.5 23.5C309.5 22.2 308.6 20.4 308.3 19.0C308.0 17.6 307.6 15.8 308.5 15.0Z" fill="#929292" /><ellipse cx="315" cy="37" rx="4.1" ry="4.1" fill="#929292" /><ellipse cx="383.9" cy="19.3" rx="4" ry="4.2" fill="#8a8a8a" /><ellipse cx="331" cy="33" rx="1.6" ry="1.6" fill="#6a6a6a" /><ellipse cx="296.5" cy="17" rx="3" ry="2" fill="#555" /><path d="M340.0 15.0C341.0 14.2 348.0 14.0 350.0 14.5C352.0 15.0 353.0 17.2 352.0 18.0C351.0 18.8 346.0 19.5 344.0 19.0C342.0 18.5 339.0 15.8 340.0 15.0Z" fill="#555" /><path d="M303.5 55.0C304.2 53.0 306.8 53.2 308.0 54.0C309.2 54.8 310.1 57.7 310.5 60.0C310.9 62.3 311.2 66.0 310.6 68.0C310.0 70.0 308.2 72.3 307.0 72.0C305.8 71.7 304.1 68.8 303.5 66.0C302.9 63.2 302.8 57.0 303.5 55.0Z" fill="#747474" /><path d="M333.0 56.5C333.8 54.8 336.3 55.1 337.5 56.0C338.7 56.9 339.9 59.7 340.3 62.0C340.7 64.3 340.7 68.2 340.0 70.0C339.3 71.8 337.2 73.7 336.0 73.0C334.8 72.3 333.5 68.8 333.0 66.0C332.5 63.2 332.2 58.2 333.0 56.5Z" fill="#747474" /><path d="M281.0 34.5C282.6 33.4 286.4 33.7 289.0 33.5C291.6 33.3 295.0 32.5 296.5 33.5C298.0 34.5 298.0 37.3 298.0 39.5C298.0 41.7 298.0 45.3 296.5 46.5C295.0 47.7 291.4 46.7 289.0 46.5C286.6 46.3 283.6 46.6 282.0 45.5C280.4 44.4 279.7 41.8 279.5 40.0C279.3 38.2 279.4 35.6 281.0 34.5Z" fill="#666" /><path d="M283.4 21.1C285.4 21.1 288.6 21.6 290.5 22.4C292.4 23.1 293.9 24.3 295.0 25.6C296.1 26.9 296.9 28.6 297.0 30.1C297.1 31.6 296.6 33.8 295.7 34.7C294.8 35.6 293.1 35.5 291.8 35.3C290.5 35.1 289.3 33.7 287.9 33.4C286.5 33.1 284.7 32.9 283.4 33.4C282.1 33.9 280.8 35.4 280.1 36.6C279.5 37.8 279.2 39.2 279.5 40.5C279.8 41.8 280.9 43.5 282.1 44.4C283.3 45.3 285.0 45.6 286.6 45.7C288.2 45.8 290.3 44.7 291.8 45.0C293.3 45.3 294.8 46.4 295.7 47.6C296.6 48.8 297.2 50.6 297.0 52.1C296.8 53.6 295.7 55.5 294.4 56.6C293.1 57.7 291.0 58.3 289.2 58.6C287.4 58.9 285.4 59.0 283.4 58.6C281.3 58.2 278.8 57.3 276.9 56.0C275.0 54.7 273.2 52.7 271.8 50.8C270.4 48.9 269.1 46.6 268.5 44.4C267.9 42.1 267.7 39.6 267.9 37.3C268.1 35.0 268.8 32.8 269.8 30.8C270.8 28.9 272.3 27.0 273.7 25.6C275.1 24.2 276.6 23.1 278.2 22.4C279.8 21.6 281.3 21.1 283.4 21.1Z" fill="#9a9a9a" /><path d="M286.0 38.0C287.0 37.8 291.0 37.2 292.0 37.0" fill="none" stroke="#7a7a7a" stroke-width="1.4" stroke-linecap="round" /><path d="M286.5 42.0C287.6 42.1 291.9 42.4 293.0 42.5" fill="none" stroke="#777" stroke-width="1.4" stroke-linecap="round" /><ellipse cx="285.4" cy="32.3" rx="1.1" ry="1" fill="#f0f0f0" /><ellipse cx="289.8" cy="32.1" rx="1.1" ry="1" fill="#f0f0f0" /><ellipse cx="286.6" cy="45.5" rx="1.1" ry="1" fill="#f0f0f0" /><ellipse cx="289.8" cy="45.7" rx="1" ry="0.9" fill="#e8e8e8" /><ellipse cx="281.2" cy="37" rx="1.3" ry="1.1" fill="#222" /><ellipse cx="280.4" cy="41.4" rx="1.2" ry="1.2" fill="#262626" /><ellipse cx="297.2" cy="45" rx="0.9" ry="0.9" fill="#aaa" /><path d="M356.0 36.0C357.6 34.9 360.0 33.5 362.0 33.5C364.0 33.5 366.2 34.8 368.0 36.0C369.8 37.2 371.7 39.2 372.5 41.0C373.3 42.8 373.6 45.2 373.0 47.0C372.4 48.8 370.8 50.6 369.0 51.5C367.2 52.4 364.3 52.5 362.0 52.5C359.7 52.5 356.8 52.5 355.0 51.5C353.2 50.5 351.9 48.4 351.5 46.5C351.1 44.6 351.8 41.8 352.5 40.0C353.2 38.2 354.4 37.1 356.0 36.0Z" fill="#5e5e5e" /><path d="M367.4 30.3C369.0 30.3 371.9 30.6 373.8 31.6C375.7 32.6 377.6 34.3 379.0 36.1C380.4 37.9 381.6 40.4 382.2 42.6C382.8 44.8 382.8 47.0 382.5 49.1C382.2 51.2 381.5 53.6 380.3 55.5C379.1 57.4 377.2 59.4 375.1 60.7C373.1 62.0 370.5 63.1 368.0 63.3C365.5 63.5 362.7 62.9 360.3 62.0C357.9 61.1 355.5 59.5 353.8 58.1C352.1 56.7 350.4 54.7 349.9 53.6C349.4 52.5 349.5 52.0 350.6 51.7C351.7 51.4 354.4 51.5 356.4 51.7C358.4 51.9 360.8 52.9 362.8 52.9C364.9 52.9 367.1 52.6 368.7 51.7C370.3 50.9 371.8 49.2 372.5 47.8C373.2 46.4 373.4 44.7 373.2 43.3C373.0 41.9 372.2 40.6 371.2 39.4C370.2 38.2 368.7 37.1 367.4 36.1C366.1 35.1 364.1 34.4 363.5 33.6C362.9 32.9 363.5 32.1 364.1 31.6C364.8 31.1 365.8 30.3 367.4 30.3Z" fill="#9c9c9c" /><path d="M355.0 39.5C356.2 39.9 359.7 41.1 362.0 42.0C364.3 42.9 367.8 44.5 369.0 45.0" fill="none" stroke="#6a6a6a" stroke-width="1.8" stroke-linecap="round" /><path d="M353.0 46.0C354.2 46.2 357.7 46.5 360.0 47.0C362.3 47.5 365.8 48.7 367.0 49.0" fill="none" stroke="#6a6a6a" stroke-width="1.6" stroke-linecap="round" /><ellipse cx="358.8" cy="38.7" rx="1.2" ry="1" fill="#f4f4f4" /><ellipse cx="359.8" cy="48" rx="1.3" ry="1" fill="#f4f4f4" /><path d="M311 66L332 66L334.6 79.8L308.8 79.8Z" fill="#f4f4f4"/><path d="M315.6 66.8L327.2 66.8L323 80L319.8 80Z" fill="#424242"/><path d="M313.6 71.5L317 78.2L311.8 78.4Z" fill="#d0d0d0"/><path d="M329.4 71.5L326 78.2L331.4 78.4Z" fill="#d0d0d0"/><path d="M321.4 51.6C323.1 51.6 324.9 51.7 326.4 52.2C327.9 52.7 329.2 53.6 330.2 54.6C331.2 55.6 331.8 57.1 332.2 58.4C332.6 59.7 332.8 61.2 332.7 62.5C332.6 63.8 332.8 65.4 331.8 66.3C330.9 67.2 329.6 67.5 327.0 67.8C324.4 68.0 318.6 68.0 316.0 67.8C313.4 67.5 312.2 67.2 311.2 66.3C310.2 65.4 310.2 63.8 310.1 62.5C310.0 61.2 310.1 59.7 310.5 58.4C310.9 57.1 311.6 55.6 312.6 54.6C313.6 53.6 314.9 52.7 316.4 52.2C317.9 51.7 319.7 51.6 321.4 51.6Z" fill="#f6f6f6" /><path d="M321.4 54.0C322.9 54.0 324.8 54.2 326.0 54.6C327.2 55.0 328.1 55.8 328.8 56.6C329.5 57.4 329.9 58.4 330.2 59.4C330.5 60.4 330.5 61.6 330.4 62.5C330.3 63.4 330.1 64.3 329.4 64.8C328.7 65.3 328.1 65.5 326.0 65.6C323.9 65.7 319.1 65.7 317.0 65.6C314.9 65.5 314.2 65.3 313.4 64.8C312.6 64.3 312.5 63.4 312.4 62.5C312.3 61.6 312.3 60.4 312.6 59.4C312.9 58.4 313.3 57.4 314.0 56.6C314.7 55.8 315.6 55.0 316.8 54.6C318.0 54.2 319.9 54.0 321.4 54.0Z" fill="#c0c0c0" /><ellipse cx="327.6" cy="43.5" rx="3.6" ry="3.6" fill="#fff" /><ellipse cx="327.6" cy="43.5" rx="1.9" ry="1.9" fill="#d8d8d8" /></g></g><g filter="url(#bs)"><path d="M301.3 52.6 L311.4 49.2 L312.3 51.9 L319.8 43.5 L308.7 41.2 L309.6 43.9 L299.5 47.2 Z" fill="#fff"/><rect x="368.6" y="73.6" width="15.2" height="2.5" fill="#fff"/><path d="M269.6 76.2l7 2.2" stroke="#fff" stroke-width="1.5"/><text x="270.7" y="74.7" style="font-size:18px;fill:#fff;stroke:#fff;stroke-width:0.35px">3</text></g></g><path d="M121.8 50h4.2v-1.5l4.8 2.65-4.8 2.65v-1.5h-4.2z" fill="#0a0a0a"/><path d="M256.2 50h4.2v-1.5l4.8 2.65-4.8 2.65v-1.5h-4.2z" fill="#0a0a0a"/>
<text class="b" x="0.9" y="11.5" style="font-size:16.2px">A</text>
<!--PLOTB-->
<g id="plotB">
<text class="b" x="-0.3" y="121.5">B</text>
<path class="axl" d="M75.1 112v141.1M74.5 252.5H215M214.4 112v141.1"/>
<path class="axl" d="M75.2 252.5v2M93.6 252.5v2M112 252.5v2M130.5 252.5v2M148.9 252.5v2M167.4 252.5v2M185.8 252.5v2M204.2 252.5v2M84.4 252.5v1.7M102.8 252.5v1.7M121.3 252.5v1.7M139.7 252.5v1.7M158.1 252.5v1.7M176.6 252.5v1.7M195 252.5v1.7M213.4 252.5v1.7"/>
<path class="axl" d="M214.4 112.6h2.6M214.4 143.7h2.6M214.4 174.8h2.6M214.4 205.9h2.6M214.4 237h2.6"/>
<g class="t" text-anchor="middle">
<text class="t" x="75.2" y="267.3">0</text><text class="t" x="93.6" y="267.3">2</text><text class="t" x="112" y="267.3">4</text><text class="t" x="130.5" y="267.3">6</text><text class="t" x="148.9" y="267.3">8</text><text class="t" x="167.6" y="267.3">10</text><text class="t" x="186.6" y="267.3">12</text><text class="t" x="204.6" y="267.3">14</text>
</g>
<text class="t" x="217.6" y="117.2">80</text><text class="t" x="217.6" y="148.3">70</text><text class="t" x="217.6" y="179.4">60</text><text class="t" x="217.6" y="210.5">50</text><text class="t" x="217.6" y="241.6">40</text>
<text class="ax" x="127.1" y="283.1">Years</text>
<text class="ax" transform="translate(252.3 221.5) rotate(-90)">rBV cortex (%)</text>
<path class="ln" d="M75 135.1L85.1 166.6L98.1 224.1M75 179.1L90.2 179.3L137.4 232.7M75 135.1L119.8 143.5L172.4 217"/>
<path d="M75 129l3.4 6h-6.8z"/><rect x="71.9" y="131.9" width="6.3" height="6.3"/><rect x="82" y="163.5" width="6.3" height="6.3"/><rect x="95.1" y="220.9" width="6.2" height="6.2"/>
<circle cx="75" cy="179.1" r="3.3"/><circle cx="90.2" cy="179.3" r="3.3"/><circle cx="137.5" cy="232.8" r="3.3"/>
<path d="M119.8 139.5l3.6 6.7h-7.2zM172.4 213.2l3.6 6.5h-7.2z"/>
<text class="g" x="77.8" y="129">GFR 80</text><text class="g" x="38.5" y="139.4">GFR 68</text><text class="g" x="122" y="140.5">GFR 79</text><text class="g" x="90.3" y="170.2">GFR 67</text><text class="g" x="38.5" y="182.5">GFR 66</text><text class="g" x="94.6" y="183">GFR 60</text><text class="g" x="174.4" y="214.4">GFR 56</text><text class="g" x="95.1" y="235.4">GFR 10</text><text class="g" x="141" y="239.4">GFR 10</text>
<circle cx="279.3" cy="134.7" r="3.4"/><rect x="276.3" y="150" width="6.2" height="6.2"/><path d="M279.5 168l3.35 6.9h-6.7z"/>
<text class="lg" x="287.2" y="138.9">Patient 1 (53y)</text><text class="lg" x="287.2" y="157.3">Patient 2 (62y)</text><text class="lg" x="287.2" y="175.5">Patient 3 (64y)</text>
</g>
<!--PLOTC-->
<g id="plotC">
<text class="b" x="-0.4" y="314.2">C</text>
<path class="axl" d="M70 312.1v141.3M69.4 452.8H210.6"/>
<path class="axl" d="M70 312.7h-2.8M70 340.7h-2.8M70 368.7h-2.8M70 396.7h-2.8M70 424.7h-2.8M70 452.8h-2.8"/>
<path class="axl" d="M70 452.8v2.3M98 452.8v2.3M126 452.8v2.3M154 452.8v2.3M182 452.8v2.3M210 452.8v2.3"/>
<g text-anchor="end"><text class="t2" x="66.9" y="317.3">100</text><text class="t2" x="66.9" y="345.3">80</text><text class="t2" x="66.9" y="373.3">60</text><text class="t2" x="66.9" y="401.3">40</text><text class="t2" x="66.9" y="429.3">20</text><text class="t2" x="66.9" y="457.4">0</text></g>
<g text-anchor="middle"><text class="t2" x="69.8" y="467.7">0</text><text class="t2" x="97.9" y="467.7">20</text><text class="t2" x="126.5" y="467.7">40</text><text class="t2" x="153.6" y="467.7">60</text><text class="t2" x="181.4" y="467.7">80</text><text class="t2" x="210" y="467.7">100</text></g>
<text class="ax" x="126" y="482.1">rBV</text>
<text class="ax" transform="translate(45.4 397.2) rotate(-90)">GFR</text>
<path class="ln" d="M112.7 448.6L178.1 310.9" style="stroke-width:1.3"/>
<path d="M153.1 338.6l3.6 6.5h-7.2zM156.3 337l3.6 6.5h-7.2zM134.6 370.9l3.6 6.6h-7.2z"/>
<rect x="154.3" y="355.6" width="6" height="6"/><rect x="168.3" y="354.4" width="6" height="6"/><rect x="127.8" y="435.8" width="6" height="6"/>
<circle cx="151.6" cy="359.9" r="3.2"/><circle cx="151.3" cy="368.4" r="3.2"/><circle cx="127.2" cy="438.8" r="3.2"/>
<circle cx="279.3" cy="333.3" r="3.4"/><rect x="276.3" y="348.5" width="6.2" height="6.2"/><path d="M279.5 366.8l3.35 6.9h-6.7z"/>
<text class="lg" x="287" y="338">Patient 1 (53y)</text><text class="lg" x="287" y="355.6">Patient 2 (62y)</text><text class="lg" x="287" y="373.7">Patient 3 (64y)</text>
<text class="lg" x="376.67" y="412.3" text-anchor="end">p &lt; 0.01&#160;</text><text class="lg" x="373" y="426.3" text-anchor="end">Spearman r = 0.8619</text>
</g>
</svg>
</body></html>
